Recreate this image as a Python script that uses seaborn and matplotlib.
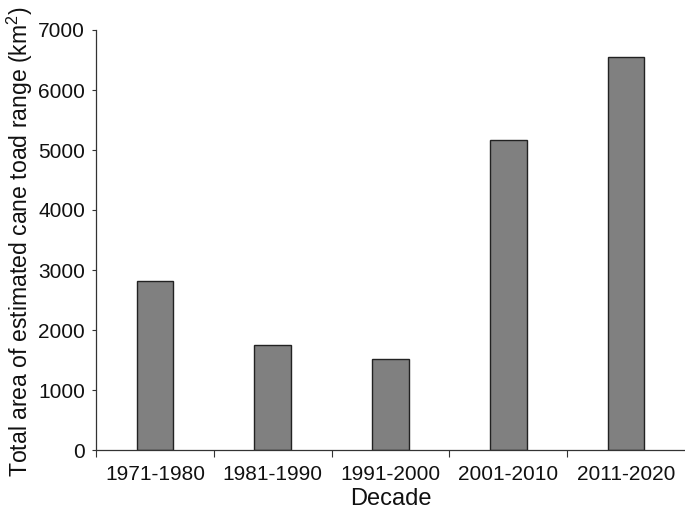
import matplotlib
matplotlib.use("Agg")
import matplotlib.pyplot as plt
import seaborn as sns
import pandas as pd
import numpy as np
from matplotlib.ticker import FixedLocator

decades = ["1971-1980", "1981-1990", "1991-2000", "2001-2010", "2011-2020"]
areas = [2820, 1750, 1515, 5165, 6545]
yticks = [0, 1000, 2000, 3000, 4000, 5000, 6000, 7000]

sns.set_theme(style="ticks")
plt.rcParams['font.family'] = ['Liberation Sans', 'DejaVu Sans']
plt.rcParams['mathtext.fontset'] = 'custom'
plt.rcParams['mathtext.rm'] = 'Liberation Sans'
plt.rcParams['mathtext.it'] = 'Liberation Sans'

df = pd.DataFrame({"Decade": decades, "Area": areas})

fig = plt.figure(figsize=(6.85, 5.09), dpi=100)
ax = fig.add_axes([96/685, 1 - 450/509, 1 - 96/685, 420/509])
sns.barplot(data=df, x="Decade", y="Area", color="#808080", saturation=1,
            width=0.311, edgecolor="#222222", linewidth=1.0, ax=ax)

ax.set_ylim(0, 7000)
ax.set_xlim(-0.5, 4.5)
ax.set_yticks(yticks)
ax.set_yticklabels([str(v) for v in yticks], fontsize=15)
ax.tick_params(axis='y', length=3, width=0.8, color="#333333", pad=5, labelcolor="#111111")
ax.tick_params(axis='x', which='major', length=0, pad=11, labelsize=15, labelcolor="#111111")
ax.xaxis.set_minor_locator(FixedLocator([-0.5, 0.5, 1.5, 2.5, 3.5]))
ax.tick_params(axis='x', which='minor', length=5, width=0.8, color="#333333", direction='out')

for s in ["top", "right"]:
    ax.spines[s].set_visible(False)
for s in ["left", "bottom"]:
    ax.spines[s].set_color("#333333")
    ax.spines[s].set_linewidth(0.9)

ax.set_xlabel("Decade", fontsize=17, color="#111111", labelpad=2.5)
ax.set_ylabel("Total area of estimated cane toad range (km$^2$)", fontsize=16.6, color="#111111", labelpad=4)
ax.yaxis.set_label_coords(-0.104, 0.495)

fig.savefig("out.png", dpi=100)
